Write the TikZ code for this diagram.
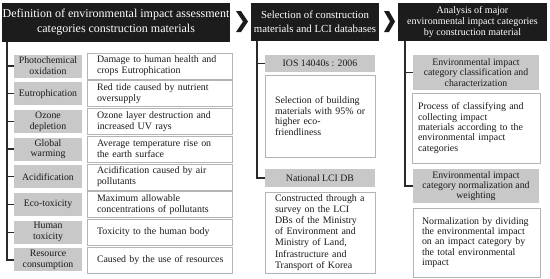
\documentclass[tikz,border=0pt]{standalone}
\usepackage{fontspec}
\setmainfont{Liberation Serif}
\definecolor{hdrc}{HTML}{1C1C1C}
\definecolor{grayc}{HTML}{C8C8C8}
\definecolor{bordc}{HTML}{B4B4B4}
\definecolor{txtc}{HTML}{1A1A1A}
\definecolor{linec}{HTML}{2A2A2A}
\begin{document}
\begin{tikzpicture}[x=1pt,y=-1pt,
  hdr/.style={fill=hdrc, text=white, font=\fontsize{10.5}{13.5}\selectfont, align=center, inner sep=0pt},
  cat/.style={fill=grayc, text=txtc, font=\fontsize{9.8}{10.8}\selectfont, align=center, inner sep=0pt, minimum width=68pt, minimum height=23pt},
  sub/.style={fill=grayc, text=txtc, font=\fontsize{9.8}{10.3}\selectfont, align=center, inner sep=0pt},
  desc/.style={draw=bordc, line width=0.6pt, fill=white, text=txtc, font=\fontsize{9.9}{10.8}\selectfont, align=left, inner ysep=0pt},
  ldesc/.style={desc, inner xsep=10pt, text width=125pt, minimum height=26pt},
  conn/.style={draw=linec, line width=1.3pt},
  chev/.style={fill=hdrc}]
\useasboundingbox (0,0) rectangle (550,279);

% headers
\node[hdr, minimum width=228pt, minimum height=39pt, font=\fontsize{12}{15}\selectfont] (lhead) at (116,22.5)
  {Definition of environmental impact assessment\\categories construction materials};
\node[hdr, minimum width=128pt, minimum height=38pt, font=\fontsize{10.8}{14}\selectfont] (mhead) at (315,22)
  {Selection of construction\\materials and LCI databases};
\node[hdr, minimum width=149pt, minimum height=38pt, font=\fontsize{10}{10.6}\selectfont] (rhead) at (472.5,22)
  {Analysis of major\\environmental impact categories\\by construction material};

% chevrons
\fill[chev] (236,11) -- (241,11) -- (248,21.5) -- (241,32) -- (236,32) -- (243,21.5) -- cycle;
\fill[chev] (384,11) -- (389,11) -- (395,21.5) -- (389,32) -- (384,32) -- (390,21.5) -- cycle;

% left column
\node[cat] (c1) at (48,66)    {Photochemical\\oxidation};
\node[cat] (c2) at (48,93.7)  {Eutrophication};
\node[cat] (c3) at (48,121.4) {Ozone\\depletion};
\node[cat] (c4) at (48,149.1) {Global\\warming};
\node[cat] (c5) at (48,176.8) {Acidification};
\node[cat] (c6) at (48,204.5) {Eco-toxicity};
\node[cat] (c7) at (48,232.2) {Human\\toxicity};
\node[cat] (c8) at (48,259.9) {Resource\\consumption};

\node[ldesc] (d1) at (159.5,66)    {\mbox{Damage to human health and}\\crops Eutrophication};
\node[ldesc] (d2) at (159.5,93.7)  {\mbox{Red tide caused by nutrient}\\oversupply};
\node[ldesc] (d3) at (159.5,121.4) {\mbox{Ozone layer destruction and}\\increased UV rays};
\node[ldesc] (d4) at (159.5,149.1) {\mbox{Average temperature rise on}\\the earth surface};
\node[ldesc] (d5) at (159.5,176.8) {\mbox{Acidification caused by air}\\pollutants};
\node[ldesc] (d6) at (159.5,204.5) {Maximum allowable\\\mbox{concentrations of pollutants}};
\node[ldesc] (d7) at (159.5,232.2) {\mbox{Toxicity to the human body}};
\node[ldesc] (d8) at (159.5,259.9) {\mbox{Caused by the use of resources}};

\coordinate (ls) at (7,42);
\draw[conn] (ls) |- (c8.west);
\foreach \n in {c1,c2,c3,c4,c5,c6,c7} \draw[conn] (ls |- \n.west) -- (\n.west);

% middle column
\node[sub, minimum width=110pt, minimum height=17pt] (ios) at (320,63.5) {IOS 14040s : 2006};
\node[desc, minimum width=110pt, minimum height=82pt, inner xsep=10pt, text width=90pt] (md1) at (320,116)
  {\mbox{Selection of building}\\\mbox{materials with 95\% or}\\higher eco-\\friendliness};
\node[sub, minimum width=110pt, minimum height=18pt] (nat) at (320,178) {National LCI DB};
\node[desc, minimum width=110pt, minimum height=81pt, inner xsep=10pt, text width=90pt, font=\fontsize{9.9}{11.1}\selectfont] (md2) at (320,232.5)
  {\mbox{Constructed through a}\\survey on the LCI\\\mbox{DBs of the Ministry}\\\mbox{of Environment and}\\Ministry of Land,\\Infrastructure and\\\mbox{Transport of Korea}};

\coordinate (ms) at (257,41);
\draw[conn] (ms) |- (nat.west);
\draw[conn] (ms |- ios.west) -- (ios.west);

% right column
\node[sub, minimum width=126pt, minimum height=35pt] (r1g) at (476,72.5)
  {Environmental impact\\category classification and\\characterization};
\node[desc, minimum width=128pt, minimum height=70pt, inner xsep=6pt, text width=116pt, font=\fontsize{9.9}{10.3}\selectfont] (r1d) at (476,128)
  {\mbox{Process of classifying and}\\collecting impact\\\mbox{materials according to the}\\environmental impact\\categories};
\node[sub, minimum width=126pt, minimum height=34pt] (r2g) at (476,186)
  {Environmental impact\\category normalization and\\weighting};
\node[desc, minimum width=127pt, minimum height=69pt, inner xsep=9pt, text width=109pt, font=\fontsize{9.9}{10.3}\selectfont] (r2d) at (476.5,242.5)
  {\mbox{Normalization by dividing}\\\mbox{the environmental impact}\\\mbox{on an impact category by}\\\mbox{the total environmental}\\impact};

\coordinate (rs) at (405,41);
\draw[conn] (rs) |- (r2g.west);
\draw[conn] (rs |- r1g.west) -- (r1g.west);
\end{tikzpicture}
\end{document}
